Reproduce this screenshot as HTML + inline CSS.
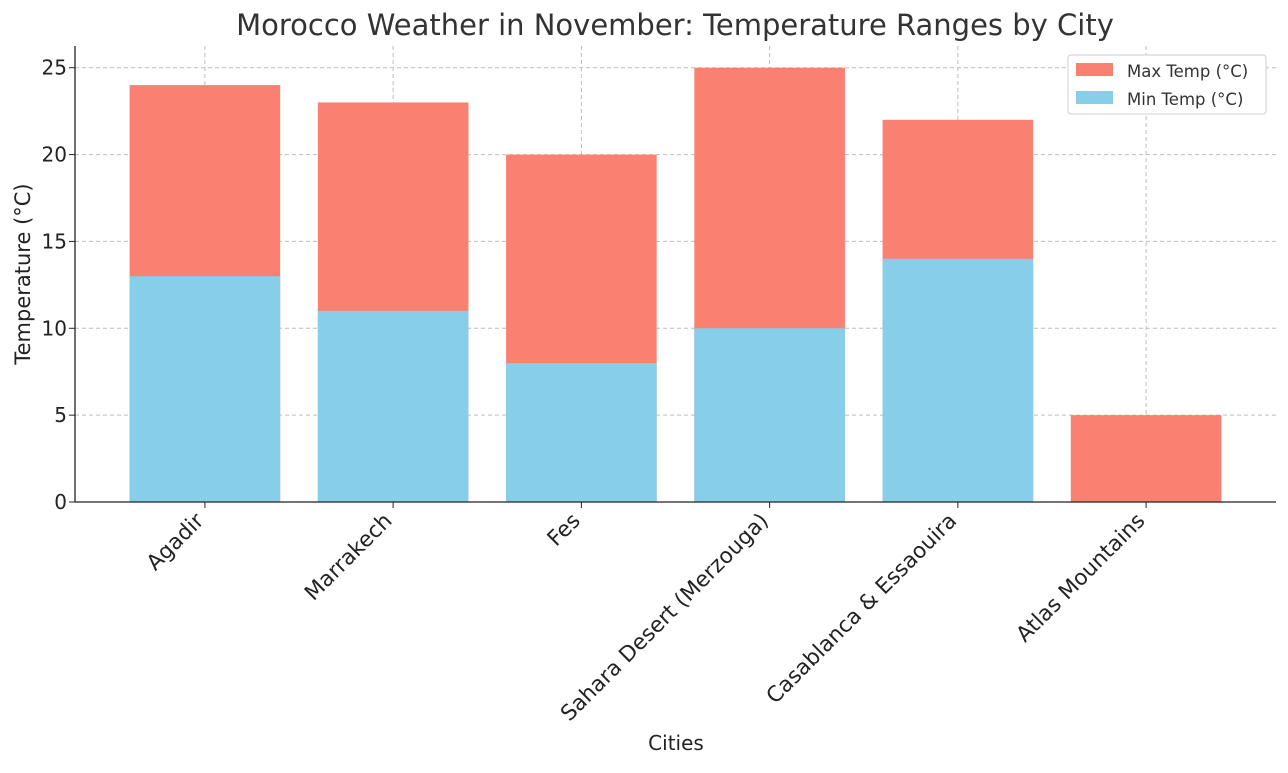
<!DOCTYPE html>
<html><head><meta charset="utf-8"><style>
body{margin:0;background:#fff;font-family:"Liberation Sans","DejaVu Sans",sans-serif;}
svg text{font-family:"DejaVu Sans","Liberation Sans",sans-serif;}
</style></head><body>
<svg id="chart" width="1288" height="768" xmlns="http://www.w3.org/2000/svg">
<rect width="1288" height="768" fill="#fff"/>
<text x="675" y="35" text-anchor="middle" font-size="29" fill="#333">Morocco Weather in November: Temperature Ranges by City</text>
<g id="grid"></g><g id="bars"></g><g id="axes"></g>
<text transform="translate(30,274) rotate(-90)" text-anchor="middle" font-size="21" fill="#222">Temperature (°C)</text>
<text x="676" y="750" text-anchor="middle" font-size="20" fill="#222">Cities</text>
<g>
<rect x="1068" y="55" width="198" height="59" rx="3" fill="#fff" stroke="#ccc"/>
<rect x="1076" y="63" width="37" height="13" fill="#FA8072"/>
<text x="1127" y="77" font-size="16.5" fill="#333">Max Temp (°C)</text>
<rect x="1076" y="91" width="37" height="13" fill="#87CEEB"/>
<text x="1127" y="105" font-size="16.5" fill="#333">Min Temp (°C)</text>
</g>
</svg>
<script>
const cities=["Agadir","Marrakech","Fes","Sahara Desert (Merzouga)","Casablanca & Essaouira","Atlas Mountains"];
const maxTemps=[24,23,20,25,22,5];
const minTemps=[13,11,8,10,14,0];
const yTicks=[0,5,10,15,20,25];
const NS="http://www.w3.org/2000/svg";
const L=75,R=1276,T=46,B=502;
const n=cities.length;
const xMin=-0.4-0.05*(n-1+0.8),xMax=n-1+0.4+0.05*(n-1+0.8);
const yMaxV=Math.max(...maxTemps)*1.05;
const x=v=>L+(v-xMin)/(xMax-xMin)*(R-L);
const y=v=>B-v/yMaxV*(B-T);
function mk(t,a,p){const e=document.createElementNS(NS,t);for(const k in a)e.setAttribute(k,a[k]);p.appendChild(e);return e;}
const grid=document.getElementById('grid'),bars=document.getElementById('bars'),axes=document.getElementById('axes');
yTicks.forEach(t=>{
 const g=mk('line',{x1:L,x2:R,y1:y(t),y2:y(t),stroke:'#bdbdbd','stroke-dasharray':'4,3','stroke-width':1},grid);
 
 
 mk('line',{x1:L-6,x2:L,y1:y(t),y2:y(t),stroke:'#222'},axes);
 const tx=mk('text',{x:L-8,y:y(t)+7,'text-anchor':'end','font-size':20,fill:'#222'},axes);
 tx.textContent=t;
 
 
});
cities.forEach((c,i)=>{
 const cx=x(i),w=x(0.8)-x(0);
 const gl=mk('line',{x1:cx,x2:cx,y1:T,y2:B,stroke:'#bdbdbd','stroke-dasharray':'4,3'},grid);
 
 
 const b1=mk('rect',{x:cx-w/2,y:y(maxTemps[i]),width:w,height:B-y(maxTemps[i]),fill:'#FA8072'},bars);
 
 
 const b2=mk('rect',{x:cx-w/2,y:y(minTemps[i]),width:w,height:B-y(minTemps[i]),fill:'#87CEEB'},bars);
 
 
 mk('line',{x1:cx,x2:cx,y1:B,y2:B+6,stroke:'#222'},axes);
 const tx=mk('text',{transform:`translate(${cx},${B+20}) rotate(-45)`,'text-anchor':'end','font-size':21.5,fill:'#222'},axes);
 tx.textContent=c;
 
 
});
mk('line',{x1:L,x2:L,y1:T,y2:B,stroke:'#222','stroke-width':1.3},axes);
mk('line',{x1:L,x2:R,y1:B,y2:B,stroke:'#222','stroke-width':1.3},axes);
</script>
</body></html>
